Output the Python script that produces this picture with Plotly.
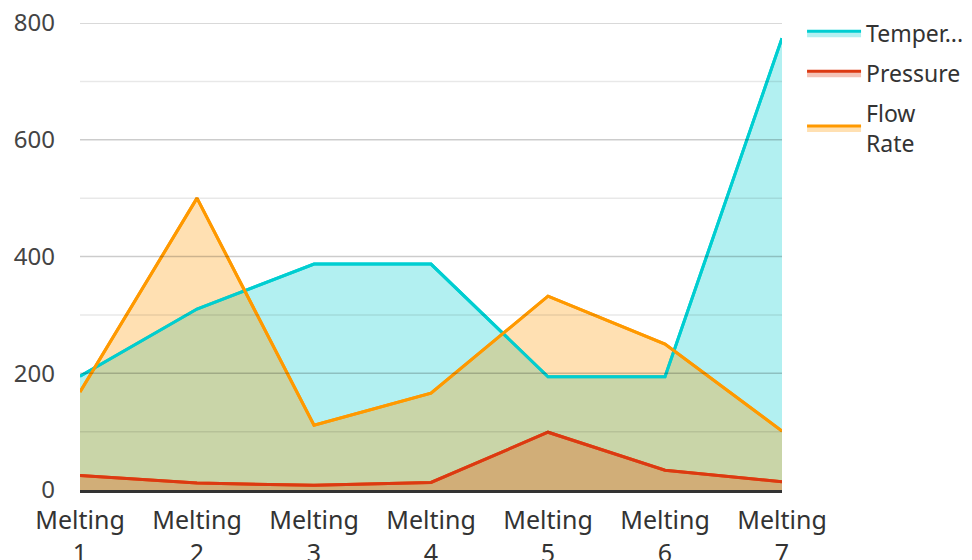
import plotly.graph_objects as go

categories = ["Melting<br>1", "Melting<br>2", "Melting<br>3", "Melting<br>4",
              "Melting<br>5", "Melting<br>6", "Melting<br>7"]
temperature = [195, 310, 387, 387, 194, 194, 774]
pressure = [25, 12, 8, 13, 99, 34, 14]
flow_rate = [168, 500, 111, 166, 332, 250, 101]
series_names = ["Temper...", "Pressure", "Flow<br>Rate"]
y_ticks = [0, 200, 400, 600, 800]
major_grid = [200, 400, 600, 800]
minor_grid = [100, 300, 500, 700]

line_colors = ["#00CED1", "#DC3912", "#FF9900"]
fill_colors = ["rgba(0,206,209,0.3)", "rgba(220,57,18,0.3)", "rgba(255,153,0,0.3)"]
all_series = [temperature, pressure, flow_rate]
xs = list(range(len(categories)))

fig = go.Figure()
# filled areas (with legend entries)
for name, vals, lc, fc in zip(series_names, all_series, line_colors, fill_colors):
    fig.add_trace(go.Scatter(
        x=xs, y=vals, name=name, mode="lines", legendgroup=name,
        line=dict(color=lc, width=3), fill="tozeroy", fillcolor=fc,
        hoverinfo="skip"))
# lines redrawn on top of all fills
for name, vals, lc in zip(series_names, all_series, line_colors):
    fig.add_trace(go.Scatter(
        x=xs, y=vals, name=name, mode="lines", legendgroup=name, showlegend=False,
        line=dict(color=lc, width=3), hoverinfo="y+name"))

shapes = []
for g in major_grid:
    shapes.append(dict(type="line", xref="paper", x0=0, x1=1, yref="y", y0=g, y1=g,
                       line=dict(color="rgba(0,0,0,0.2)", width=1.5), layer="above"))
for g in minor_grid:
    shapes.append(dict(type="line", xref="paper", x0=0, x1=1, yref="y", y0=g, y1=g,
                       line=dict(color="rgba(0,0,0,0.09)", width=1.5), layer="above"))

fig.update_layout(
    width=964, height=552,
    margin=dict(l=72, r=190, t=15, b=70),
    paper_bgcolor="white", plot_bgcolor="white",
    font=dict(family="Noto Sans", size=25, color="#333333"),
    showlegend=True,
    legend=dict(xref="container", yref="container", x=0.8237, xanchor="left",
                y=0.993, yanchor="top",
                font=dict(size=23, color="#333333"), tracegroupgap=7, itemwidth=54,
                bgcolor="rgba(0,0,0,0)"),
    shapes=shapes,
    xaxis=dict(tickmode="array", tickvals=xs, ticktext=categories,
               range=[0, len(categories) - 1], showgrid=False, zeroline=False,
               showline=True, linecolor="#333333", linewidth=3, layer="above traces",
               ticks="", ticklabelstandoff=6, automargin=False,
               ticklabeloverflow="allow",
               tickfont=dict(size=25, color="#333333")),
    yaxis=dict(range=[0, 800], tickvals=y_ticks, showgrid=False, zeroline=False,
               showline=False, ticks="", automargin=False, ticklabelstandoff=24,
               ticklabeloverflow="allow",
               tickfont=dict(size=24, color="#444444")),
)

fig.write_html("out.html")
